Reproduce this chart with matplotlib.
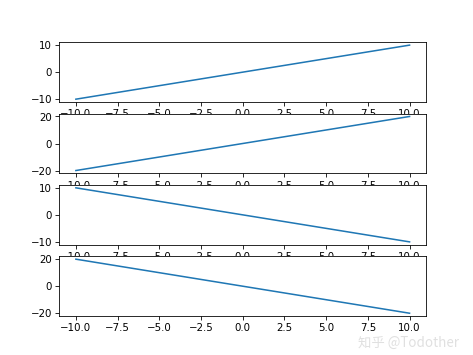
import numpy as np
import matplotlib.pyplot as plt

# endpoints of the four lines
x = [-10, 10]
y1 = [-10, 10]
y2 = [-20, 20]
y3 = [10, -10]
y4 = [20, -20]

fig = plt.figure(figsize=(6.4, 4.8), dpi=74)

for i, y in enumerate([y1, y2, y3, y4]):
    ax = fig.add_subplot(4, 1, i + 1)
    ax.plot(x, y)

fig.text(0.97, 0.035, '知乎 @Todother', ha='right', va='center',
         fontsize=13, color='#dddddd', alpha=0.9,
         family=['Noto Sans CJK SC', 'DejaVu Sans'])

fig.savefig('out.png', dpi=74)
